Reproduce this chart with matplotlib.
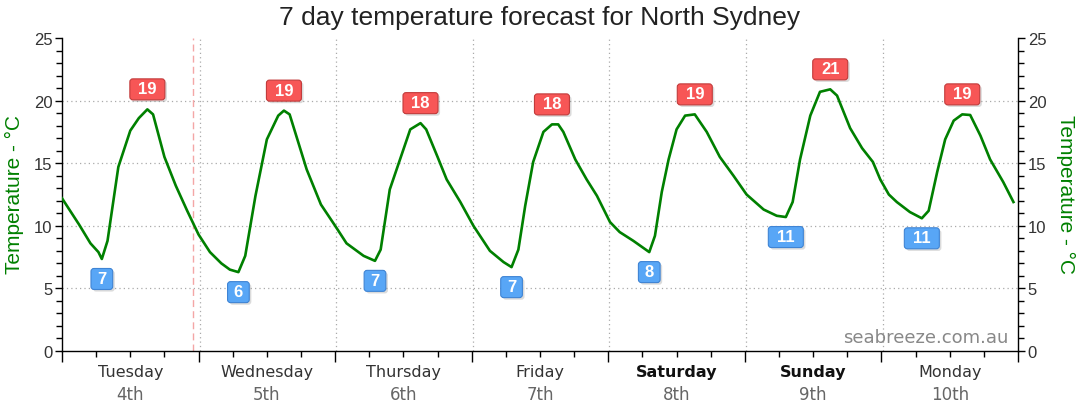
import matplotlib
matplotlib.use('Agg')
import matplotlib.pyplot as plt
import matplotlib.patheffects as pe
import matplotlib.transforms as mtransforms
from matplotlib.patches import FancyBboxPatch
import numpy as np

# hours from midnight Tuesday 4th, temperature in degC
hours = [0, 3, 5, 6.4, 7, 8, 9.9, 12, 13.5, 15, 16, 18, 20, 22,
         24, 26, 28, 29.5, 31, 32.2, 34, 36, 38, 39, 40, 43, 45.5,
         48, 50, 53, 55, 56, 57.6, 59.4, 61.2, 63, 64, 66, 67.6, 70,
         72.3, 75.2, 77.6, 79, 80.2, 81.4, 82.8, 84.6, 86.1, 87.2, 88.1, 90.2, 92.2, 94,
         96.3, 98, 100.4, 103.2, 104.2, 105.4, 106.6, 108, 109.5, 111.2, 113.3, 115.6, 118,
         120.3, 123.3, 125.6, 127.2, 128.4, 129.7, 131.5, 133.2, 135, 136.2, 138.5, 140.6, 142.5,
         143.8, 145.3, 146.7, 149, 151.1, 152.3, 153.8, 155.2, 156.7, 158.2, 159.6, 161.4, 163.1,
         165.4, 167.2]
temps = [12.2, 10.1, 8.6, 7.9, 7.35, 8.8, 14.7, 17.6, 18.6, 19.3, 18.9, 15.5, 13.2, 11.2,
         9.3, 7.9, 7.0, 6.5, 6.3, 7.6, 12.4, 16.9, 18.8, 19.2, 18.9, 14.5, 11.7,
         10.0, 8.6, 7.6, 7.2, 8.1, 12.9, 15.3, 17.7, 18.2, 17.7, 15.5, 13.7, 11.9,
         10.0, 8.0, 7.1, 6.7, 8.1, 11.6, 15.1, 17.5, 18.1, 18.1, 17.5, 15.3, 13.7, 12.4,
         10.3, 9.5, 8.8, 7.9, 9.2, 12.7, 15.3, 17.7, 18.8, 18.9, 17.5, 15.5, 14.0,
         12.5, 11.3, 10.8, 10.7, 11.9, 15.3, 18.8, 20.7, 20.9, 20.4, 17.8, 16.2, 15.1,
         13.7, 12.5, 11.9, 11.1, 10.6, 11.2, 14.3, 16.9, 18.4, 18.9, 18.85, 17.2, 15.3,
         13.5, 11.9]

days = ['Tuesday', 'Wednesday', 'Thursday', 'Friday', 'Saturday', 'Sunday', 'Monday']
dates = ['4th', '5th', '6th', '7th', '8th', '9th', '10th']
weekend = ['Saturday', 'Sunday']
highs = [19, 19, 18, 18, 19, 21, 19]
lows = [7, 6, 7, 7, 8, 11, 11]
now_hour = 23.1

fig = plt.figure(figsize=(10.8, 4.14), dpi=100)
ax = fig.add_axes([62/1080, 62/414, 956/1080, 313/414])

ax.plot(hours, temps, color='#008000', linewidth=1.9, solid_joinstyle='round', zorder=3)

ax.set_xlim(0, 168)
ax.set_ylim(0, 25)

# grid
ax.set_xticks(np.arange(0, 169, 24))
ax.set_xticks(np.arange(0, 169, 6), minor=True)
ax.set_yticks(np.arange(0, 26, 5))
ax.set_yticks(np.arange(0, 26, 1), minor=True)
for g in range(24, 168, 24):
    ax.axvline(g + 0.2, color='#aaaaaa', linestyle=(0, (1, 2.5)), linewidth=0.9, zorder=1)
for g in range(5, 25, 5):
    ax.axhline(g, color='#aaaaaa', linestyle=(0, (1, 2.5)), linewidth=0.9, zorder=1)
ax.axvline(now_hour, color='#f4a6a6', linestyle=(0, (5, 3)), linewidth=1.0, zorder=2)

ax.spines['top'].set_visible(False)
for s in ['left', 'right', 'bottom']:
    ax.spines[s].set_linewidth(1.0)
ax.tick_params(axis='x', which='major', length=8, width=1, labelbottom=False)
ax.tick_params(axis='x', which='minor', length=4, width=1)
ax.tick_params(axis='y', which='major', length=5, width=1, labelsize=12,
               labelcolor='#333333', right=True, labelright=True, pad=2)
ax.tick_params(axis='y', which='minor', length=4, width=1, right=True)
for lab in ax.get_yticklabels():
    lab.set_fontfamily('Liberation Sans')

# day labels
for i, (d, dt) in enumerate(zip(days, dates)):
    cx = 12 + 24 * i
    bold = d in weekend
    ax.text(cx, -0.067, d, transform=ax.get_xaxis_transform(), ha='center', va='center',
            fontsize=11.5, color='#111111' if bold else '#333333',
            fontweight='bold' if bold else 'normal', family='DejaVu Sans')
    ax.text(cx, -0.137, dt, transform=ax.get_xaxis_transform(), ha='center', va='center',
            fontsize=12, color='#666666', family='DejaVu Sans')

# high / low labels at the daily extremes of the curve
h_arr = np.array(hours)
t_arr = np.array(temps)
shadow = [pe.SimplePatchShadow(offset=(1.5, -1.5), shadow_rgbFace='#888888', alpha=0.3), pe.Normal()]
for i in range(7):
    m = (h_arr >= 24 * i) & (h_arr < 24 * (i + 1))
    hh, tt = h_arr[m], t_arr[m]
    imax, imin = np.argmax(tt), np.argmin(tt)
    for val, x0, y0, dy, fc, ec in [(highs[i], hh[imax], tt[imax], 0.20, '#f75656', '#c23b3b'),
                                    (lows[i], hh[imin], tt[imin], -0.20, '#58a6f6', '#3f84d4')]:
        trans = fig.dpi_scale_trans + mtransforms.ScaledTranslation(x0, y0, ax.transData)
        w = 0.084 + 0.133 * len(str(val))
        hgt = 0.21
        box = FancyBboxPatch((-w / 2, dy - hgt / 2), w, hgt,
                             boxstyle='round,pad=0,rounding_size=0.03',
                             fc=fc, ec=ec, lw=0.8, transform=trans, zorder=5, clip_on=False)
        box.set_path_effects(shadow)
        ax.add_patch(box)
        ax.annotate(str(val), xy=(x0, y0), xytext=(0, dy * 100 + 0.5), textcoords='offset pixels',
                    ha='center', va='center', fontsize=12, fontweight='bold', color='white',
                    family='Liberation Sans', zorder=6)

ax.text(0.99, 0.045, 'seabreeze.com.au', transform=ax.transAxes, ha='right', va='center',
        fontsize=13, color='#888888', family='DejaVu Sans')

fig.text(0.5, 1 - 18/414, '7 day temperature forecast for North Sydney', ha='center', va='center',
         fontsize=19, color='#222222', family='Liberation Sans')
fig.text(14/1080, 1 - 195/414, 'Temperature - °C', rotation=90, ha='center', va='center',
         fontsize=15, color='#008000', family='Liberation Sans')
fig.text(1066/1080, 1 - 195/414, 'Temperature - °C', rotation=270, ha='center', va='center',
         fontsize=15, color='#008000', family='Liberation Sans')

fig.savefig('out.png', dpi=100, facecolor='white')
